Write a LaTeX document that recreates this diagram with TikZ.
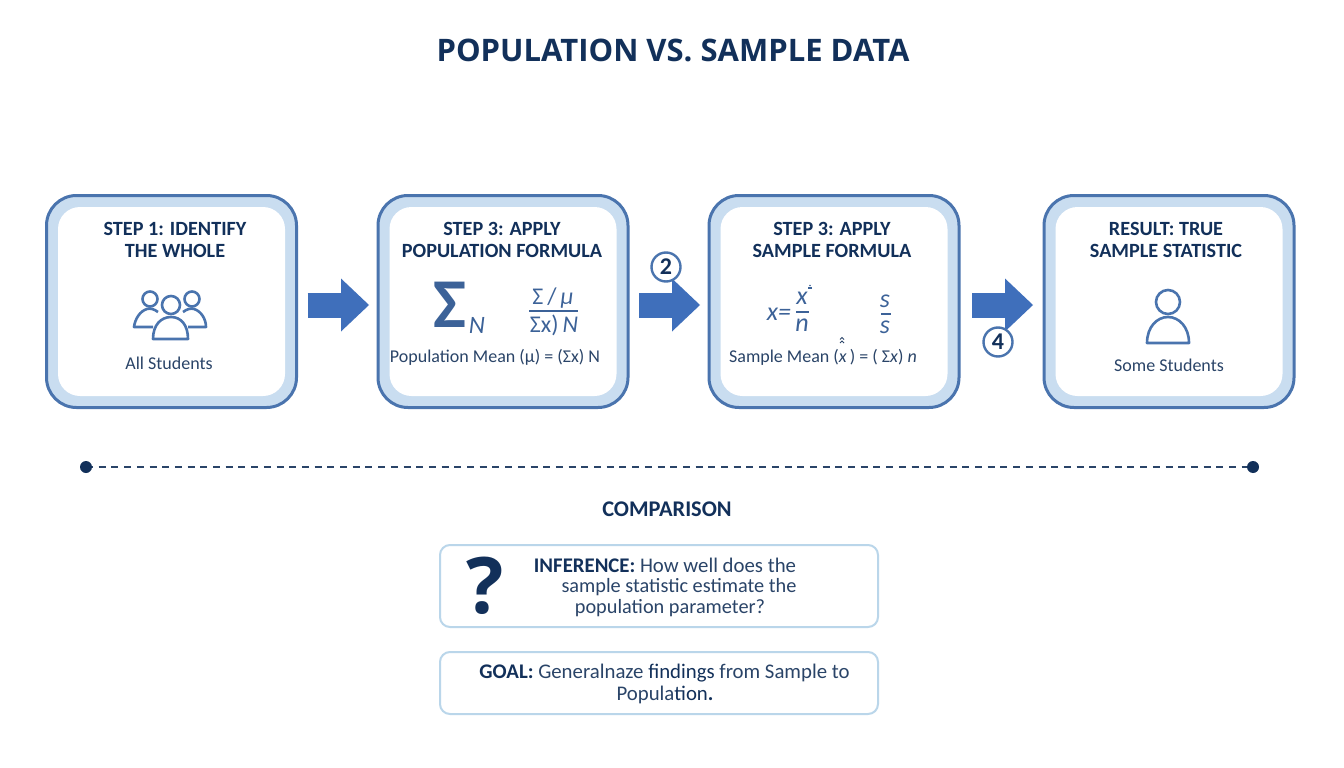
\documentclass[tikz,border=0pt]{standalone}
\usepackage{fontspec}
\setmainfont{Carlito}
\newfontfamily\titlefont{Open Sans}
\usetikzlibrary{arrows.meta}
\definecolor{navy}{HTML}{12305A}
\definecolor{edgeblue}{HTML}{4A74AE}
\definecolor{band}{HTML}{C9DDF0}
\definecolor{flow}{HTML}{3F6FBB}
\definecolor{formula}{HTML}{3C6298}
\definecolor{bodytxt}{HTML}{2A4468}
\definecolor{softedge}{HTML}{BAD6EA}
\definecolor{dashcol}{HTML}{2A4468}
\tikzset{
  x=1pt,y=-1pt,
  stepbox/.style={draw=edgeblue,line width=3pt,fill=band,rounded corners=30pt,minimum width=250pt,minimum height=212pt,inner sep=0pt},
  innerpane/.style={fill=white,rounded corners=22pt,minimum width=227pt,minimum height=189pt,inner sep=0pt},
  head/.style={font=\fontsize{20.2}{21.5}\selectfont\bfseries,text=navy,align=center},
  caption/.style={font=\fontsize{18}{20}\selectfont,text=bodytxt},
  flowarrow/.style={draw=flow,line width=25pt,-{Triangle[length=28pt,width=53pt,line width=0pt,fill=flow]}},
  badge/.style={circle,draw=edgeblue,line width=2.4pt,fill=white,minimum size=29pt,inner sep=0pt,text=navy,font=\fontsize{24}{24}\selectfont\bfseries},
  icon/.style={draw=edgeblue,line width=2.6pt,line join=round},
  note/.style={draw=softedge,line width=2pt,fill=white,rounded corners=10pt,minimum width=438pt,inner sep=0pt},
  notetxt/.style={font=\fontsize{20.8}{21.5}\selectfont,text=bodytxt,align=center},
  fm/.style={text=formula,inner sep=0pt},
}
\begin{document}
\begin{tikzpicture}
\useasboundingbox (0,0) rectangle (1344,768);
\fill[white] (0,0) rectangle (1344,768);
\node[font=\titlefont\fontsize{31}{34}\selectfont\bfseries,text=navy] (title) at (673,50) {POPULATION VS. SAMPLE DATA};
% boxes
\node[stepbox] (b1) at (171.5,301.5) {};
\node[innerpane] (i1) at (b1) {};
\node[stepbox] (b2) at (503,301.5) {};
\node[innerpane] (i2) at (b2) {};
\node[stepbox] (b3) at (834,301.5) {};
\node[innerpane] (i3) at (b3) {};
\node[stepbox] (b4) at (1169,301.5) {};
\node[innerpane] (i4) at (b4) {};
% headings
\node[head] (h1) at (175,240) {STEP 1: IDENTIFY\\THE WHOLE};
\node[head] (h2) at (502,240) {STEP 3: APPLY\\POPULATION FORMULA};
\node[head] (h3) at (832,240) {STEP 3: APPLY\\SAMPLE FORMULA};
\node[head] (h4) at (1166,240) {RESULT: TRUE\\SAMPLE STATISTIC};
% arrows
\draw[flowarrow,shorten <=9.5pt,shorten >=7.5pt] ([yshift=-3.5pt]b1.east) -- ([yshift=-3.5pt]b2.west);
\draw[flowarrow,shorten <=9.5pt,shorten >=7.5pt] ([yshift=-3.5pt]b2.east) -- ([yshift=-3.5pt]b3.west);
\draw[flowarrow,shorten <=11.5pt,shorten >=9.5pt] ([yshift=-3.5pt]b3.east) -- ([yshift=-3.5pt]b4.west);
\node[badge] (n2) at (666,267) {2};
\node[badge] (n4) at (998,342) {4};
% people icon
\draw[icon] (171,305) circle (9);
\draw[icon] (150,299) circle (7.5);
\draw[icon] (192,299) circle (7.5);
\draw[icon] (153,339) .. controls (153,325) and (161,317) .. (171,317) .. controls (181,317) and (188,325) .. (188,339) -- cycle;
\draw[icon] (158,312) .. controls (154,309) and (150,308) .. (147,309) .. controls (140,311) and (135,319) .. (134,327) -- (153,327);
\draw[icon] (183,312) .. controls (187,309) and (191,308) .. (194,309) .. controls (201,311) and (206,319) .. (206,327) -- (188,327);
\node[caption] (c1) at (169,363) {All Students};
% population formula
\node[fm,font=\fontsize{70}{70}\selectfont\bfseries] (sig) at (450,305) {Σ};
\node[fm,font=\fontsize{25}{25}\selectfont\itshape] (subn) at (477,325) {N};
\node[fm,font=\fontsize{24}{25}\selectfont] (fa) at (553,298) {Σ\,/\,\textit{μ}};
\node[fm,font=\fontsize{24}{25}\selectfont] (fb) at (554,325) {Σx)\,\textit{N}};
\draw[formula,line width=1.4pt] (529,311) -- (578,311);
\node[caption] (c2) at (495,357) {Population Mean (μ) = (Σx) N};
% sample formula
\node[fm,font=\fontsize{26}{26}\selectfont\itshape] (sx) at (779,314) {x=};
\node[fm,font=\fontsize{26}{26}\selectfont\itshape] (sn1) at (802,298) {x};
\node[fm,font=\fontsize{26}{26}\selectfont\itshape] (sd1) at (802,325) {n};
\draw[formula,line width=1.4pt] (796,312) -- (809,312);
\draw[formula,line width=1.2pt] (808,288) -- (812,288);
\fill[formula] (810,285.5) circle (0.8);
\node[fm,font=\fontsize{26}{26}\selectfont\itshape] (sn2) at (885,301) {s};
\node[fm,font=\fontsize{26}{26}\selectfont\itshape] (sd2) at (885,327) {s};
\draw[formula,line width=1.4pt] (881,314) -- (891,314);
\node[caption] (c3) at (823,357) {Sample Mean (\textit{x}\,) = ( Σ\textit{x}) \textit{n}};
\draw[bodytxt,line width=0.8pt] (840,343) -- (842,341) -- (844,343);
\draw[bodytxt,line width=0.8pt] (840,339.5) -- (842,337.5) -- (844,339.5);
% person icon
\draw[icon] (1168,302) circle (12);
\draw[icon] (1147,343) .. controls (1147,327) and (1157,317) .. (1168,317) .. controls (1179,317) and (1189,327) .. (1189,343) -- cycle;
\node[caption] (c4) at (1169,365) {Some Students};
% divider
\coordinate (dl) at (86,467);
\coordinate (dr) at (1253,467);
\draw[dashcol,line width=2.2pt,dash pattern=on 7pt off 5.7pt] (dl) -- (dr);
\fill[navy] (dl) circle (6);
\fill[navy] (dr) circle (6);
\node[font=\fontsize{22.4}{24}\selectfont\bfseries,text=navy] (cmp) at (667,509) {COMPARISON};
% notes
\node[note,minimum height=82pt] (inf) at (659,586) {};
\node[note,minimum height=62pt] (goal) at (659,683) {};
\node[font=\titlefont\fontsize{78}{78}\selectfont\bfseries,text=navy] (q) at (485,586) {?};
\node[notetxt] (t1) at (665,565) {\textcolor{navy}{\bfseries INFERENCE:} How well does the};
\node[notetxt,font=\fontsize{20.3}{21.5}\selectfont] (t2) at (679,587) {sample statistic estimate the};
\node[notetxt,font=\fontsize{20.3}{21.5}\selectfont] (t3) at (670,608) {population parameter?};
\node[notetxt] (t4) at (664.5,673) {\textcolor{navy}{\bfseries GOAL:} Generalnaze \textcolor{navy}{findings} from Sample to};
\node[notetxt] (t5) at (665,695) {Popula\textcolor{navy}{tion\bfseries.}};
\end{tikzpicture}
\end{document}
